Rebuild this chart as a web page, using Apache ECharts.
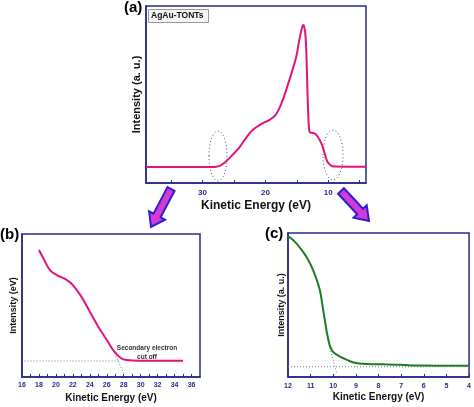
<!DOCTYPE html>
<html>
<head>
<meta charset="utf-8">
<script src="https://cdn.jsdelivr.net/npm/echarts@6.0.0/dist/echarts.min.js"></script>
<style>
html, body { margin: 0; padding: 0; background: #fff; }
#main { width: 474px; height: 407px; }
</style>
</head>
<body>
<div id="main"></div>
<script>
// (a) full spectrum
var energyA = [4, 9.0, 9.4, 9.8, 10.2, 10.6, 11.0, 11.4, 11.8, 12.2, 12.6, 12.9, 13.1, 13.3, 13.5, 13.7, 13.9, 14.0, 14.2, 14.6, 15.1, 15.9, 16.7, 17.5, 18.3, 19.4, 20.2, 21, 21.8, 22.5, 23.3, 24.1, 25.2, 26.2, 27.1, 27.8, 28.5, 39];
var intensityA = [9.2, 9.3, 9.6, 10.5, 12.5, 17.0, 21.5, 24.5, 26.8, 28.0, 28.4, 28.5, 32, 50, 75, 86, 89, 89.3, 87.5, 81, 71.2, 61.5, 52.5, 44.5, 38.8, 35.5, 34.2, 32.6, 30.6, 28.2, 24.4, 20.3, 16.0, 12.4, 10.0, 9.2, 9, 9];
var ticksA = [5, 10, 15, 20, 25, 30, 35];
var labelsA = [10, 20, 30];

// (b) secondary electron cut off
var energyB = [18.0, 18.5, 19.3, 20.1, 21.3, 22.0, 23.0, 24.0, 25.0, 26.0, 26.9, 27.7, 28.3, 29.9, 35.0];
var intensityB = [88.8, 83.2, 74.8, 71.3, 67.8, 64.3, 56.2, 45.7, 35.2, 25.9, 17.7, 13.1, 11.9, 11.4, 11.4];
var baseB = [[16.3, 11.2], [27.6, 11.2]];
var tangentB = [[26.9, 16.5], [28.0, 2.8]];
var ticksB = [16, 17, 18, 19, 20, 21, 22, 23, 24, 25, 26, 27, 28, 29, 30, 31, 32, 33, 34, 35, 36];
var labelsB = [16, 18, 20, 22, 24, 26, 28, 30, 32, 34, 36];

// (c) valence band edge
var energyC = [4.0, 5.0, 6.3, 7.0, 7.8, 8.5, 9.1, 9.55, 9.85, 10.0, 10.15, 10.3, 10.45, 10.6, 10.9, 11.15, 11.4, 11.7, 12.0];
var intensityC = [7.8, 7.8, 7.9, 8.5, 8.8, 9.0, 10.1, 13.0, 15.6, 17.2, 21.6, 32.5, 47, 60.7, 74.5, 82.5, 88.3, 94.0, 97.9];
var baseC = [[12, 7.1], [4, 7.1]];
var tangentC = [[10.15, 20], [9.85, 2.8]];

function pairs(xs, ys) {
	var out = [];
	for (var i = 0; i < xs.length; i++) out.push([xs[i], ys[i]]);
	return out;
}

function arrow(tail, tip) {
	var dx = tip[0] - tail[0], dy = tip[1] - tail[1];
	var len = Math.sqrt(dx * dx + dy * dy);
	var ux = dx / len, uy = dy / len, px = -uy, py = ux;
	var bx = tail[0] + ux * (len - 13), by = tail[1] + uy * (len - 13);
	var w = 4, h = 9;
	return {
		type: 'polygon',
		shape: { points: [
			[tail[0] + px * w, tail[1] + py * w],
			[bx + px * w, by + py * w],
			[bx + px * h, by + py * h],
			tip,
			[bx - px * h, by - py * h],
			[bx - px * w, by - py * w],
			[tail[0] - px * w, tail[1] - py * w]
		]},
		style: { fill: '#d43ad6', stroke: '#2b1fcf', lineWidth: 2 },
		z: 10
	};
}

var navy = '#2a2a86';
var font = 'Liberation Sans';
var pink = '#e3127c';
var green = '#1b7d1f';

var myChart = echarts.init(document.getElementById('main'));

function xAxisBase(extra) {
	var base = {
		type: 'value',
		axisLine: { show: true, lineStyle: { color: navy, width: 1.5 } },
		splitLine: { show: false },
		axisTick: { show: true, inside: true, length: 3, lineStyle: { color: navy } },
		axisLabel: { color: navy, fontWeight: 'bold', fontFamily: font, fontSize: 7, margin: 5 },
		nameLocation: 'middle',
		name: 'Kinetic Energy (eV)',
		nameTextStyle: { color: '#111', fontWeight: 'bold', fontFamily: font, fontSize: 10 }
	};
	for (var k in extra) {
		if (typeof extra[k] === 'object' && base[k] && !Array.isArray(extra[k])) {
			for (var j in extra[k]) base[k][j] = extra[k][j];
		} else base[k] = extra[k];
	}
	return base;
}

function yAxisBase(idx, name, gap, size) {
	return {
		type: 'value', gridIndex: idx, min: 0, max: 100,
		axisLine: { show: true, lineStyle: { color: navy, width: 1.5 } },
		axisTick: { show: false }, axisLabel: { show: false }, splitLine: { show: false },
		name: name, nameLocation: 'middle', nameGap: gap,
		nameTextStyle: { color: '#111', fontWeight: 'bold', fontFamily: font, fontSize: size }
	};
}

var option = {
	animation: false,
	grid: [
		{ left: 146, top: 6, width: 220, height: 177, show: true, borderColor: navy, borderWidth: 1.5 },
		{ left: 22, top: 234, width: 178, height: 143, show: true, borderColor: navy, borderWidth: 1.5 },
		{ left: 288, top: 233, width: 182, height: 144, show: true, borderColor: navy, borderWidth: 1.5 }
	],
	xAxis: [
		xAxisBase({
			gridIndex: 0, min: 4, max: 39, inverse: true, nameGap: 17,
			axisTick: { customValues: ticksA },
			axisLabel: { customValues: labelsA, fontSize: 8, margin: 6 },
			nameTextStyle: { fontSize: 12 }
		}),
		xAxisBase({
			gridIndex: 1, min: 16, max: 37, nameGap: 16,
			axisTick: { customValues: ticksB },
			axisLabel: { customValues: labelsB }
		}),
		xAxisBase({
			gridIndex: 2, min: 4, max: 12, interval: 1, inverse: true, nameGap: 15,
			axisLabel: { margin: 6 }
		})
	],
	yAxis: [
		yAxisBase(0, 'Intensity (a. u.)', 4, 11),
		yAxisBase(1, 'Intensity (eV)', 4, 9),
		yAxisBase(2, 'Intensity (a. u.)', 2, 9)
	],
	series: [
		{ type: 'line', xAxisIndex: 0, yAxisIndex: 0, data: pairs(energyA, intensityA), smooth: 0.25, showSymbol: false, lineStyle: { color: pink, width: 2 } },
		{ type: 'line', xAxisIndex: 1, yAxisIndex: 1, data: pairs(energyB, intensityB), smooth: 0.4, showSymbol: false, lineStyle: { color: pink, width: 2 } },
		{ type: 'line', xAxisIndex: 1, yAxisIndex: 1, data: baseB, showSymbol: false, lineStyle: { color: '#777', width: 1, type: [1, 2] } },
		{ type: 'line', xAxisIndex: 1, yAxisIndex: 1, data: tangentB, showSymbol: false, lineStyle: { color: '#777', width: 1, type: [1, 2] } },
		{ type: 'line', xAxisIndex: 2, yAxisIndex: 2, data: pairs(energyC, intensityC), smooth: 0.3, showSymbol: false, lineStyle: { color: green, width: 2 } },
		{ type: 'line', xAxisIndex: 2, yAxisIndex: 2, data: baseC, showSymbol: false, lineStyle: { color: '#777', width: 1, type: [1, 2] } },
		{ type: 'line', xAxisIndex: 2, yAxisIndex: 2, data: tangentC, showSymbol: false, lineStyle: { color: '#777', width: 1, type: [1, 2] } }
	],
	graphic: [
		{ type: 'text', left: 124, top: 0, style: { text: '(a)', font: 'bold 15px "Liberation Sans"', fill: '#000' } },
		{ type: 'text', left: 0, top: 227, style: { text: '(b)', font: 'bold 15px "Liberation Sans"', fill: '#000' } },
		{ type: 'text', left: 265, top: 226, style: { text: '(c)', font: 'bold 15px "Liberation Sans"', fill: '#000' } },
		{ type: 'rect', shape: { x: 148.5, y: 9.5, width: 60, height: 13 }, style: { fill: '#f4f4f4', stroke: '#999', lineWidth: 1 } },
		{ type: 'text', x: 151, y: 16, style: { text: 'AgAu-TONTs', font: 'bold 8.5px "Liberation Sans"', fill: '#111', verticalAlign: 'middle' } },
		{ type: 'ellipse', shape: { cx: 218, cy: 156, rx: 9, ry: 25 }, style: { fill: 'none', stroke: '#4a4a8a', lineWidth: 1, lineDash: [1, 2.5] } },
		{ type: 'ellipse', shape: { cx: 333, cy: 155, rx: 10, ry: 25 }, style: { fill: 'none', stroke: '#4a4a8a', lineWidth: 1, lineDash: [1, 2.5] } },
		{ type: 'text', x: 147, y: 348, style: { text: 'Secondary electron', font: 'bold 6.5px "Liberation Sans"', fill: '#333', align: 'center', verticalAlign: 'middle' } },
		{ type: 'text', x: 147, y: 357, style: { text: 'cut off', font: 'bold 6.5px "Liberation Sans"', fill: '#333', align: 'center', verticalAlign: 'middle' } },
		arrow([171, 189], [151, 227]),
		arrow([341, 191], [369, 221])
	]
};
myChart.setOption(option);
</script>
</body>
</html>
